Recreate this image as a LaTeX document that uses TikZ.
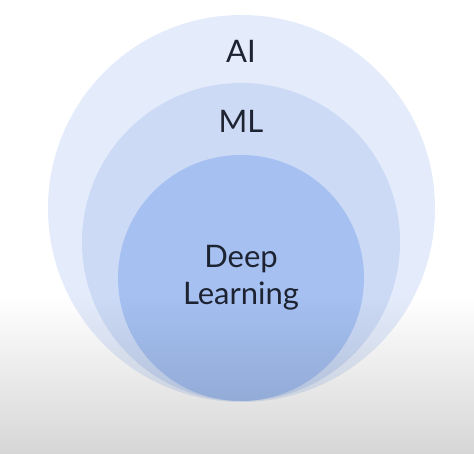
\documentclass[tikz,border=0pt]{standalone}
\usepackage{fontspec}
\setmainfont{Lato}
\usetikzlibrary{fadings}
\definecolor{aicol}{HTML}{E4ECFB}
\definecolor{mlcol}{HTML}{CCDAF6}
\definecolor{dlcol}{HTML}{A5C0F1}
\definecolor{txtcol}{HTML}{1E2331}
\tikzfading[name=fadedown, top color=transparent!100, bottom color=transparent!0]
\tikzset{
  ring/.style={circle, inner sep=0pt, outer sep=0pt, draw=none},
  lbl/.style={anchor=base, text=txtcol, font=\fontsize{31}{36}\selectfont, inner sep=0pt}
}
\begin{document}
\begin{tikzpicture}[x=1pt,y=-1pt]
\useasboundingbox (0,0) rectangle (474,454);
\fill[white] (0,0) rectangle (474,454);
\node[ring, fill=aicol, minimum size=387pt] (ai) at (241.5,208.5) {};
\node[ring, fill=mlcol, minimum size=318pt] (ml) at (241,242) {};
\node[ring, fill=dlcol, minimum size=246pt] (dl) at (241,278) {};
\fill[black, fill opacity=0.16, path fading=fadedown] (0,296) rectangle (474,454);
\node[lbl] (tai) at (241,62.7) {AI};
\node[lbl] (tml) at (241,132.7) {ML};
\node[lbl] (tdeep) at (241,268) {Deep};
\node[lbl] (tlearn) at (241,305) {Learning};
\end{tikzpicture}
\end{document}
